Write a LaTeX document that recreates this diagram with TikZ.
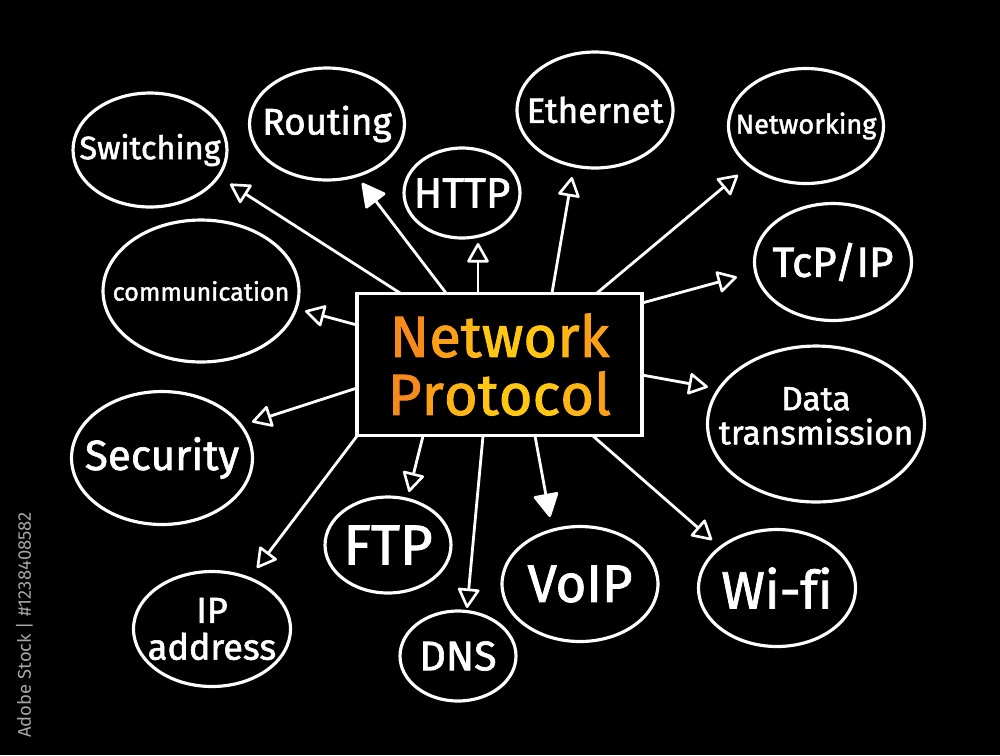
\documentclass[tikz,border=0pt]{standalone}
\usepackage{fontspec}
\setmainfont{Fira Sans}[Ligatures=CommonOff]
\setsansfont{Fira Sans}
\newfontfamily\handf{Fira Sans}[Ligatures=CommonOff,FakeBold=1.6]
\usetikzlibrary{shapes.geometric,arrows.meta}
\definecolor{orA}{RGB}{247,138,28}
\definecolor{yeB}{RGB}{255,198,18}
\colorlet{gc0}{orA}
\colorlet{gc1}{yeB!35!orA}
\colorlet{gc2}{yeB!70!orA}
\colorlet{gc3}{yeB}
\definecolor{idgray}{RGB}{165,165,165}
\newcommand{\fsz}[1]{\handf\fontsize{#1}{#1}\selectfont}
\newcommand{\fszb}[2]{\handf\fontsize{#1}{#2}\selectfont}
\begin{document}
\begin{tikzpicture}[x=0.02cm,y=-0.02cm,
  bubble/.style={ellipse,draw=white,line width=1.8pt,inner sep=0pt},
  btext/.style={text=white,align=center,inner sep=0pt},
  link/.style={draw=white,line width=1.6pt},
  hollowtip/.style={link,-{Triangle[length=0.42cm,width=0.46cm,line width=1.5pt,fill=black,round]}},
  solidtip/.style={link,-{Triangle[length=0.5cm,width=0.52cm,fill=white,round]}},
]
\fill[black] (0,0) rectangle (1000,755);
\useasboundingbox (0,0) rectangle (1000,755);

% side id
\node[rotate=90,anchor=base west,text=idgray,inner sep=0pt,font=\sffamily\fontsize{10.5}{10.5}\selectfont] (idtxt) at (31,738) {Adobe Stock | \#1238408582};

% central node
\node[draw=white,line width=1.9pt,minimum width=5.7cm,minimum height=2.84cm,align=center,
      font=\fszb{33}{33}] (np) at (499.5,364.5)
 {\textcolor{gc0}{N}\textcolor{gc1}{e}\textcolor{gc2}{t}\textcolor{gc3}{w}\textcolor{gc3}{o}\textcolor{gc2}{r}\textcolor{gc1}{k}\\
  \textcolor{gc0}{P}\textcolor{gc1}{r}\textcolor{gc2}{o}\textcolor{gc3}{t}\textcolor{gc3}{o}\textcolor{gc3}{c}\textcolor{gc2}{o}\textcolor{gc1}{l}};

% bubbles (outline) and their texts
\node[bubble,minimum width=3.08cm,minimum height=2.28cm] (sw) at (150,150) {};
\node[btext,font=\fsz{18.5}] (swt) at (sw.center) {Switching};
\node[bubble,minimum width=3.1cm,minimum height=2.24cm] (rt) at (327,124) {};
\node[btext,font=\fsz{21}] (rtt) at (rt.center) {Routing};
\node[bubble,minimum width=2.32cm,minimum height=1.8cm] (ht) at (462,193) {};
\node[btext,font=\fsz{24}] (htt) at (ht.center) {HTTP};
\node[bubble,minimum width=3.12cm,minimum height=2.32cm] (et) at (595,110) {};
\node[btext,font=\fsz{20}] (ett) at (et.center) {Ethernet};
\node[bubble,minimum width=3.1cm,minimum height=2.3cm] (nw) at (806,126) {};
\node[btext,font=\fsz{15.5}] (nwt) at (nw.center) {Networking};
\node[bubble,minimum width=3.14cm,minimum height=2.34cm] (tc) at (833,262) {};
\node[btext,font=\fsz{24}] (tct) at (tc.center) {TcP/IP};
\node[bubble,minimum width=3.92cm,minimum height=2.84cm] (cm) at (201,291) {};
\node[btext,font=\fsz{14.3}] (cmt) at (cm.center) {communication};
\node[bubble,minimum width=4.34cm,minimum height=3.12cm] (dt) at (816,424) {};
\node[btext,font=\fszb{19}{19.5}] (dtt) at (816,416) {Data\\transmission};
\node[bubble,minimum width=3.62cm,minimum height=2.66cm] (se) at (162,458) {};
\node[btext,font=\fsz{24}] (set) at (se.center) {Security};
\node[bubble,minimum width=2.52cm,minimum height=1.92cm] (ft) at (388,545) {};
\node[btext,font=\fsz{32}] (ftt) at (ft.center) {FTP};
\node[bubble,minimum width=3.12cm,minimum height=2.3cm] (vo) at (580,584) {};
\node[btext,font=\fsz{30}] (vot) at (vo.center) {VoIP};
\node[bubble,minimum width=3.14cm,minimum height=2.34cm] (wf) at (777,588) {};
\node[btext,font=\fsz{30}] (wft) at (wf.center) {Wi-fi};
\node[bubble,minimum width=3.14cm,minimum height=2.3cm] (ip) at (212,629) {};
\node[btext,font=\fszb{20.5}{21}] (ipt) at (ip.center) {IP\\address};
\node[bubble,minimum width=2.32cm,minimum height=1.8cm] (dn) at (458,656) {};
\node[btext,font=\fsz{23.5}] (dnt) at (dn.center) {DNS};

% arrow start points on the central box
\coordinate (aSw) at (400,293);
\coordinate (aRt) at (446,293);
\coordinate (aHt) at (478,293);
\coordinate (aEt) at (552,293);
\coordinate (aNw) at (597,293);
\coordinate (aTc) at (642,303);
\coordinate (aDt) at (642,375);
\coordinate (aWf) at (593,436);
\coordinate (aVo) at (535,436);
\coordinate (aDn) at (483,436);
\coordinate (aFt) at (423,436);
\coordinate (aIp) at (357,436);
\coordinate (aSe) at (357,388);
\coordinate (aCm) at (357,325);
% arrow tips
\coordinate (tSw) at (230,184);
\coordinate (tRt) at (362,183);
\coordinate (tHt) at (478,243);
\coordinate (tEt) at (572,177);
\coordinate (tNw) at (738,175);
\coordinate (tTc) at (737,277);
\coordinate (tDt) at (708,387);
\coordinate (tWf) at (712,540);
\coordinate (tVo) at (550,517);
\coordinate (tDn) at (467,608);
\coordinate (tFt) at (409,492);
\coordinate (tIp) at (257,568);
\coordinate (tSe) at (252,422);
\coordinate (tCm) at (305,311);

\draw[hollowtip] (aSw) -- (tSw);
\draw[solidtip]  (aRt) -- (tRt);
\draw[hollowtip] (aHt) -- (tHt);
\draw[hollowtip] (aEt) -- (tEt);
\draw[hollowtip] (aNw) -- (tNw);
\draw[hollowtip] (aTc) -- (tTc);
\draw[hollowtip] (aDt) -- (tDt);
\draw[hollowtip] (aWf) -- (tWf);
\draw[solidtip]  (aVo) -- (tVo);
\draw[hollowtip] (aDn) -- (tDn);
\draw[hollowtip] (aFt) -- (tFt);
\draw[hollowtip] (aIp) -- (tIp);
\draw[hollowtip] (aSe) -- (tSe);
\draw[hollowtip] (aCm) -- (tCm);
\end{tikzpicture}
\end{document}
